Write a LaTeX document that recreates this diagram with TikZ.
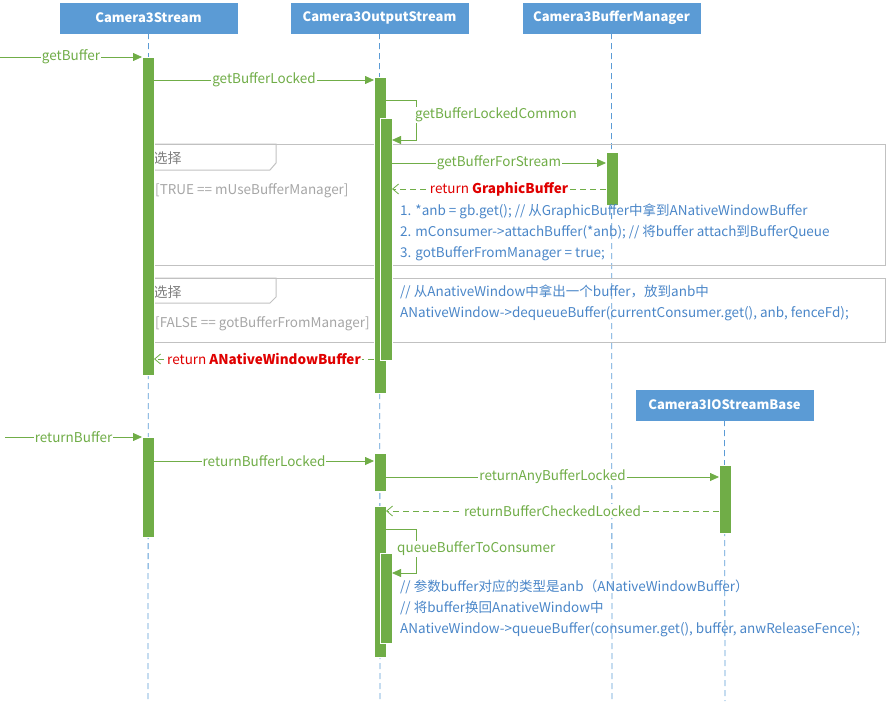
\documentclass[tikz,border=0pt]{standalone}
\usepackage{fontspec}
\setmainfont{Noto Sans CJK SC}
\usetikzlibrary{arrows.meta}
\definecolor{hb}{HTML}{5B9BD5}
\definecolor{gr}{HTML}{70AD47}
\definecolor{tb}{HTML}{4A86C8}
\definecolor{gy}{HTML}{A6A6A6}
\definecolor{rd}{HTML}{E00000}
\begin{document}
\begin{tikzpicture}[x=1pt,y=-1pt,
  font=\fontsize{13.5}{21}\selectfont,
  head/.style={draw=hb,fill=hb,text=white,font=\fontsize{13}{14}\selectfont\bfseries,minimum width=177pt,minimum height=30pt,inner sep=0},
  life/.style={hb,line width=0.8pt,dash pattern=on 6pt off 4pt},
  bar/.style={fill=gr,draw=white,line width=0.4pt},
  msg/.style={gr,line width=0.8pt,-{Triangle[length=9pt,width=8pt]}},
  ret/.style={gr,line width=0.8pt,dash pattern=on 6pt off 4pt,-{Straight Barb[length=6pt,width=10pt]}},
  lab/.style={text=gr,fill=white,inner sep=1pt},
  frag/.style={draw=gy!70,line width=1pt},
  note/.style={text=tb,align=left,anchor=north west,inner sep=0}]
\useasboundingbox (0,0) rectangle (893,701);
\node[head] (h1) at (148.5,18) {Camera3Stream};
\node[head] (h2) at (379.5,18) {Camera3OutputStream};
\node[head] (h3) at (611.5,18) {Camera3BufferManager};
\node[head] (h4) at (724.5,405) {Camera3IOStreamBase};
\draw[life] (h1.south) -- (148,701);
\draw[life] (h2.south) -- (380,701);
\draw[life] (h3.south) -- (612,701);
\draw[life] (h4.south) -- (725,701);
% fragments
\draw[frag] (148,144) rectangle (885,265);
\draw[frag] (148,144) -- (276,144) -- (276,163) -- (270,170) -- (148,170);
\node[text=gray,anchor=west] (c1) at (150,158) {\fontsize{14}{14}\selectfont 选择};
\node[text=gy,anchor=west,inner sep=0] (g1) at (155,191) {[TRUE == mUseBufferManager]};
\draw[frag] (148,278) rectangle (885,342);
\draw[frag] (148,278) -- (276,278) -- (276,297) -- (270,303) -- (148,303);
\node[text=gray,anchor=west] (c2) at (150,292) {\fontsize{14}{14}\selectfont 选择};
\node[text=gy,anchor=west,inner sep=0] (g2) at (155,324) {[FALSE == gotBufferFromManager]};
% bars
\draw[bar] (142,57) rectangle (154,375);
\draw[bar] (374,77) rectangle (386,393);
\draw[bar] (380,118) rectangle (392,360);
\draw[bar] (606,152) rectangle (618,205);
\draw[bar] (142,437) rectangle (154,537);
\draw[bar] (374,453) rectangle (386,491);
\draw[bar] (374,506) rectangle (386,657);
\draw[bar] (380,553) rectangle (392,643);
\draw[bar] (719,465) rectangle (731,533);
\coordinate (s0) at (0,57); \coordinate (s1) at (142,57);
\draw[msg] (s0) -- node[lab]{getBuffer} (s1);
\coordinate (a0) at (154,80); \coordinate (a1) at (374,80);
\draw[msg] (a0) -- node[lab]{getBufferLocked} (a1);
\coordinate (l0) at (386,100); \coordinate (l1) at (416,100); \coordinate (l2) at (416,140); \coordinate (l3) at (392,140);
\draw[msg] (l0) -- (l1) -- (l2) -- (l3);
\node[lab,anchor=west] (lc) at (414,115) {getBufferLockedCommon};
\coordinate (b0) at (392,163); \coordinate (b1) at (606,163);
\draw[msg] (b0) -- node[lab]{getBufferForStream} (b1);
\coordinate (r0) at (606,189); \coordinate (r1) at (392,189);
\draw[ret] (r0) -- node[fill=white,inner sep=1pt,text=rd]{return \textbf{GraphicBuffer}} (r1);
\node[note] (n1) at (400,204) {1. *anb = gb.get(); // 从GraphicBuffer中拿到ANativeWindowBuffer\\2. mConsumer->attachBuffer(*anb); // 将buffer attach到BufferQueue\\3. gotBufferFromManager = true;};
\node[note] (n2) at (400,285) {// 从AnativeWindow中拿出一个buffer，放到anb中\\ANativeWindow->dequeueBuffer(currentConsumer.get(), anb, fenceFd);};
\coordinate (q0) at (374,359); \coordinate (q1) at (154,359);
\draw[ret] (q0) -- node[fill=white,inner sep=1pt,text=rd]{return \textbf{ANativeWindowBuffer}} (q1);
\coordinate (t0) at (5,437); \coordinate (t1) at (142,437);
\draw[msg] (t0) -- node[lab]{returnBuffer} (t1);
\coordinate (u0) at (154,461); \coordinate (u1) at (374,461);
\draw[msg] (u0) -- node[lab]{returnBufferLocked} (u1);
\coordinate (v0) at (386,477); \coordinate (v1) at (719,477);
\draw[msg] (v0) -- node[lab]{returnAnyBufferLocked} (v1);
\coordinate (w0) at (719,511); \coordinate (w1) at (386,511);
\draw[ret] (w0) -- node[lab]{returnBufferCheckedLocked} (w1);
\coordinate (k0) at (386,529); \coordinate (k1) at (416,529); \coordinate (k2) at (416,573); \coordinate (k3) at (392,573);
\draw[msg] (k0) -- (k1) -- (k2) -- (k3);
\node[lab,anchor=west] (kc) at (396,549) {queueBufferToConsumer};
\node[note] (n3) at (400,580) {// 参数buffer对应的类型是anb（ANativeWindowBuffer）\\// 将buffer换回AnativeWindow中\\ANativeWindow->queueBuffer(consumer.get(), buffer, anwReleaseFence);};
\end{tikzpicture}
\end{document}
